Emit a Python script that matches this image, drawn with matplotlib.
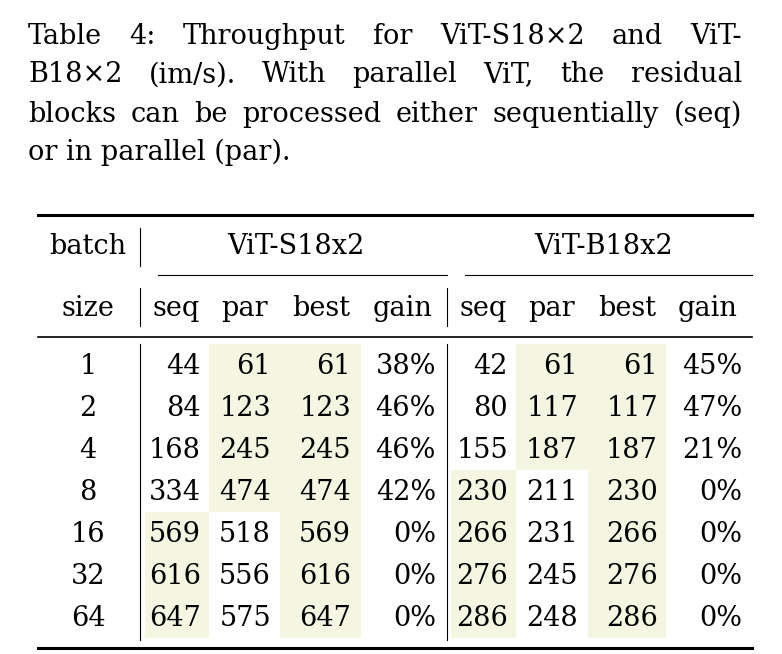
import matplotlib
matplotlib.use("Agg")
import matplotlib.pyplot as plt
from matplotlib.patches import Rectangle

batch = ["1", "2", "4", "8", "16", "32", "64"]
s_seq = [44, 84, 168, 334, 569, 616, 647]
s_par = [61, 123, 245, 474, 518, 556, 575]
s_best = [61, 123, 245, 474, 569, 616, 647]
s_gain = ["38%", "46%", "46%", "42%", "0%", "0%", "0%"]
b_seq = [42, 80, 155, 230, 266, 276, 286]
b_par = [61, 117, 187, 211, 231, 245, 248]
b_best = [61, 117, 187, 230, 266, 276, 286]
b_gain = ["45%", "47%", "21%", "0%", "0%", "0%", "0%"]
caption = ["Table 4:  Throughput for ViT-S18×2 and ViT-",
           "B18×2 (im/s).  With parallel ViT, the residual",
           "blocks can be processed either sequentially (seq)",
           "or in parallel (par)."]

W, H = 782, 654
fig = plt.figure(figsize=(W/100, H/100), dpi=100)
ax = fig.add_axes([0, 0, 1, 1])
ax.set_xlim(0, W); ax.set_ylim(H, 0); ax.axis("off")
FONT = "DejaVu Serif"
FS = 19.5
fig.canvas.draw()
r = fig.canvas.get_renderer()

def wpx(t):
    tt = ax.text(0, 0, t, fontsize=FS, family=FONT)
    w = tt.get_window_extent(r).width
    tt.remove()
    return w

cy = [37, 75, 114, 152]
for i, line in enumerate(caption):
    if i < 3:
        words = line.split()
        widths = [wpx(w) for w in words]
        gap = (742 - 28 - sum(widths)) / (len(words) - 1)
        x = 28
        for w, ww in zip(words, widths):
            ax.text(x, cy[i], w, fontsize=FS, family=FONT, va="center")
            x += ww + gap
    else:
        ax.text(28, cy[i], line, fontsize=FS, family=FONT, va="center")

shade = "#f4f6e1"
rows_y = [365, 407, 449, 491, 533, 575, 617]
cols = {"s_seq": (145, 209), "s_par": (209, 280), "s_best": (280, 361), "s_gain": (361, 444),
        "b_seq": (451, 516), "b_par": (516, 588), "b_best": (588, 666), "b_gain": (666, 750)}
for i, y in enumerate(rows_y):
    for key, seq, par in [("s", s_seq[i], s_par[i]), ("b", b_seq[i], b_par[i])]:
        sel = [key + "_par"] if par > seq else [key + "_seq"]
        for c in sel + [key + "_best"]:
            l, rr = cols[c]
            ax.add_patch(Rectangle((l, y - 21), rr - l, 42, color=shade, lw=0))

def cell(x, y, t, ha="right"):
    ax.text(x, y + 2, t, fontsize=FS, family=FONT, ha=ha, va="center")

ax.plot([38, 752], [215, 215], color="black", lw=2.2)
ax.plot([38, 752], [337, 337], color="black", lw=1.2)
ax.plot([38, 752], [648, 648], color="black", lw=2.2)
ax.plot([158, 447], [275, 275], color="black", lw=0.8)
ax.plot([465, 752], [275, 275], color="black", lw=0.8)
for x0, segs in [(140, [(228, 266), (288, 326), (344, 640)]), (447, [(288, 326), (344, 640)])]:
    for a, b in segs:
        ax.plot([x0, x0], [a, b], color="black", lw=0.8)

cell(88, 245, "batch", "center")
cell(296, 245, "ViT-S18x2", "center")
cell(604, 245, "ViT-B18x2", "center")
cell(88, 306, "size", "center")
hdr_x = [(176, "seq"), (245, "par"), (321, "best"), (403, "gain"),
         (483, "seq"), (552, "par"), (627, "best"), (708, "gain")]
for x, t in hdr_x:
    cell(x, 306, t, "center")

for i, y in enumerate(rows_y):
    cell(88, y, batch[i], "center")
    cell(201, y, str(s_seq[i])); cell(271, y, str(s_par[i]))
    cell(351, y, str(s_best[i])); cell(436, y, s_gain[i])
    cell(508, y, str(b_seq[i])); cell(578, y, str(b_par[i]))
    cell(658, y, str(b_best[i])); cell(742, y, b_gain[i])

fig.savefig("out.png", dpi=100)
